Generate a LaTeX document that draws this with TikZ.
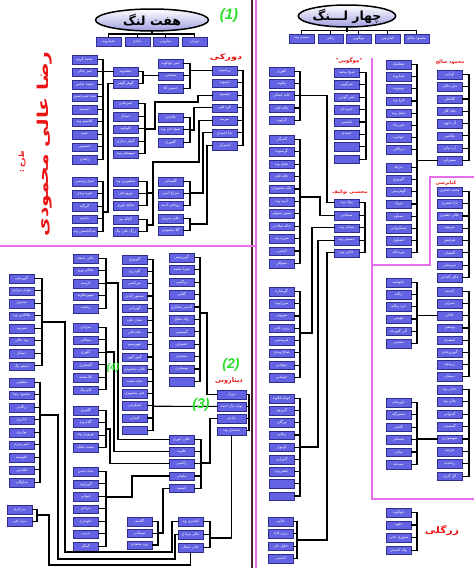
\documentclass[tikz,border=0pt]{standalone}
\usepackage{fontspec}
\usetikzlibrary{shapes.geometric}
\newfontfamily\arabicfont[Script=Arabic]{DejaVu Sans}
\newfontfamily\latf{Liberation Sans}
\TeXXeTstate=1
\definecolor{boxfill}{RGB}{98,98,226}
\definecolor{boxline}{RGB}{45,45,140}
\definecolor{pinkl}{RGB}{230,110,230}
\definecolor{grn}{RGB}{40,225,40}
\definecolor{rd}{RGB}{235,20,20}
\definecolor{lav}{RGB}{160,160,226}
\definecolor{divider}{RGB}{60,40,40}
\tikzset{
 bx/.style={draw=boxline, line width=0.3pt, fill=boxfill, text=white, minimum width=25pt, minimum height=8.5pt, inner sep=0.3pt, anchor=north west, font=\arabicfont\fontsize{3.6}{4}\selectfont},
 bxw/.style={bx, minimum width=29pt},
 ln/.style={line width=1.1pt, black, line cap=rect},
 pk/.style={line width=1.8pt, pinkl},
 title/.style={ellipse, draw=black, line width=1.5pt, top color=white, bottom color=lav, inner sep=0pt, font=\arabicfont\bfseries\fontsize{12.5}{13}\selectfont},
 redl/.style={text=rd, font=\arabicfont\bfseries\fontsize{5.5}{6}\selectfont, inner sep=0pt},
 grl/.style={text=grn, font=\latf\bfseries\itshape\fontsize{15}{15}\selectfont, inner sep=0pt}
}
\newcommand\bcol[5]{\foreach \t [count=\i] in {#5}{\node[bx] (#1\i) at (#2,{#3+(\i-1)*#4}) {\t};}}
\newcommand\brk[3]{\coordinate (bk) at (#3,0);
  \foreach \i in {1,...,#2}{\draw[ln] (#1\i.east) -- (#1\i.east -| bk);}
  \draw[ln] (#11.east -| bk) -- (#1#2.east -| bk);}
\begin{document}
\begin{tikzpicture}[x=1pt,y=-1pt]
\fill[white] (0,0) rectangle (474,568);
\useasboundingbox (0,0) rectangle (474,568);
% dividers
\draw[line width=1.6pt, divider] (252,0) -- (252,568);
\draw[pk] (256,0) -- (256,568);
\draw[pk] (0,246) -- (256,246);
\draw[pk] (372,58) -- (372,499) -- (474,499);
\draw[pk] (372,265) -- (430,265) -- (430,177) -- (474,177);
% titles
\node[title, minimum width=113pt, minimum height=22pt] (eh) at (152,20) {\beginR هفت  لنگ\endR};
\node[title, minimum width=94pt, minimum height=22pt] (ec) at (347,16) {\beginR چهار لـــنگ\endR};
\node[bx, minimum height=9pt] (Th1) at (96,37) {\beginR بختیاروند\endR};
\node[bx, minimum height=9pt] (Th2) at (124.5,37) {\beginR بابادی\endR};
\node[bx, minimum height=9pt] (Th3) at (153,37) {\beginR دینارونی\endR};
\node[bx, minimum height=9pt] (Th4) at (182,37) {\beginR دورکی\endR};
\node[bx, minimum height=9pt] (Tc1) at (289,33.5) {\beginR ممبنی وند\endR};
\node[bx, minimum height=9pt] (Tc2) at (318,33.5) {\beginR زلکی\endR};
\node[bx, minimum height=9pt] (Tc3) at (346,33.5) {\beginR موگویی\endR};
\node[bx, minimum height=9pt] (Tc4) at (375,33.5) {\beginR کیانرسی\endR};
\node[bx, minimum height=9pt] (Tc5) at (404,33.5) {\beginR محمود صالح\endR};
\draw[ln] (eh.south) -- ++(0,3);
\draw[ln] (Th1.north) -- ++(0,-3) -| (Th4.north);
\draw[ln] (Th2.north) -- ++(0,-3);
\draw[ln] (Th3.north) -- ++(0,-3);
\draw[ln] (ec.south) -- ++(0,3.5);
\draw[ln] (Tc1.north) -- ++(0,-3) -| (Tc5.north);
\foreach \k in {2,3,4}{\draw[ln] (Tc\k.north) -- ++(0,-3);}
% ---------------- upper left (1)
\bcol{Aa}{72}{55}{12.5}{\beginR محمد کریم\endR, \beginR امیر عالی\endR, \beginR سعید عباس\endR, \beginR شاه امیرحسین\endR, \beginR اسیمیه\endR, \beginR کلاسیم وند\endR, \beginR سیم\endR, \beginR حسنونی\endR, \beginR زاهدی\endR}
\bcol{Ab}{72}{177}{12.5}{\beginR شیخ رستمی\endR, \beginR خیره وندی\endR, \beginR گیرگید\endR, \beginR بیاچیم\endR, \beginR عبدالحسین وند\endR}
\bcol{Ba}{113}{67}{12}{\beginR دهقانوند\endR, \beginR گوهر گوهر\endR}
\bcol{Bb}{113}{99.5}{12.5}{\beginR امیرخانی\endR, \beginR دستال\endR, \beginR کلوکوه\endR, \beginR گنوار دیناری\endR, \beginR سهمعلی وند\endR}
\bcol{Bc}{113}{177}{12}{\beginR شاهپوری وند\endR, \beginR نوروزعلی\endR, \beginR صالح یاوری\endR}
\bcol{Bd}{113}{215}{12}{\beginR گیلکه بیر\endR, \beginR زرگ علی بیگ\endR}
\bcol{Ca}{158}{59}{12.5}{\beginR امیر ابوالوند\endR, \beginR مسیحی\endR, \beginR حسین آقا\endR}
\bcol{Cb}{158}{113}{12.5}{\beginR عالیادی\endR, \beginR شیخ جان وند\endR, \beginR گلبوزی\endR}
\bcol{Cc}{158}{177}{12}{\beginR گلستانی\endR, \beginR سراج الدین\endR, \beginR روحانی آدینه\endR}
\bcol{Cd}{158}{214}{12}{\beginR علی میرزی\endR, \beginR گلا محمودی\endR}
\bcol{D}{212}{66}{12.5}{\beginR زراسوند\endR, \beginR اسیوند\endR, \beginR عیسوند\endR, \beginR کرد قلی\endR, \beginR میرمد\endR, \beginR بابا احمدی\endR, \beginR آسترکی\endR}
\brk{Aa}{9}{103}\brk{Ab}{5}{103}\brk{Ba}{2}{143}\brk{Bb}{5}{145}\brk{Bc}{3}{147}\brk{Bd}{2}{147}
\brk{Ca}{3}{190}\brk{Cb}{3}{190}\brk{Cc}{3}{190}\brk{Cd}{2}{190}\brk{D}{7}{243}
\draw[ln] (Ba1.west) -- ++(-10,0);
\draw[ln] (103,212) -- (108,212) |- (Ba2.west);
\draw[ln] (Ca2.west) -- ++(-15,0);
\draw[ln] (D1.west) -- ++(-22,0);
\draw[ln] (145,129) -- (155,129) |- (198,102) |- (D3.west);
\draw[ln] (190,130) -- (194,130) |- (D4.west);
\draw[ln] (147,193) -- (153,193);
\draw[ln] (147,225) -- (153,225) -- (153,162) -- (199,162) |- (D5.west);
\draw[ln] (190,193) -- (203,193) |- (D6.west);
\draw[ln] (190,224) -- (207,224) |- (D7.west);
% ---------------- lower left
\bcol{Ea}{9}{274}{12.5}{\beginR گورزمین\endR, \beginR مهدی مرادی\endR, \beginR ستیزی\endR, \beginR علاالدین وند\endR, \beginR شیروند\endR, \beginR وند عالی\endR, \beginR دستال\endR, \beginR دستم بیگ\endR}
\bcol{Eb}{9}{378}{12.5}{\beginR مطیعی\endR, \beginR محمود رضا\endR, \beginR ریگانی\endR, \beginR بابارزی\endR, \beginR بهارزی\endR, \beginR امیر میرم\endR, \beginR خلوسیه\endR, \beginR لیلادینی\endR, \beginR ساوکلی\endR}
\bcol{Ec}{7}{505}{12}{\beginR بیرجاری\endR, \beginR مراد علی\endR}
\bcol{Fa}{73}{254}{12.5}{\beginR عالی جمعه\endR, \beginR تفاکی ورو\endR, \beginR کرسیه\endR, \beginR سهو قلاوند\endR, \beginR رحمت\endR}
\bcol{Fb}{73}{323}{12.5}{\beginR سرادی\endR, \beginR سفاکی\endR, \beginR گلوری\endR, \beginR گشتیاری\endR, \beginR کلا محمد\endR, \beginR کلم بیگ\endR}
\bcol{Fc}{73}{406}{12.4}{\beginR گلاوری\endR, \beginR گلام وند\endR, \beginR نوروزی وند\endR, \beginR محمد علیک\endR}
\bcol{Fd}{73}{467}{12.5}{\beginR شاه حسن\endR, \beginR گورزاوند\endR, \beginR کیوانی\endR, \beginR مرادی\endR, \beginR جلوداری\endR, \beginR بدرنی\endR, \beginR گمکار\endR}
\bcol{G}{122}{255}{12.2}{\beginR گوروزی\endR, \beginR گودرزی\endR, \beginR سرکشی\endR, \beginR منصور آبادی\endR, \beginR گورزانی\endR, \beginR شبان علی\endR, \beginR شاه قلی\endR, \beginR شهرسیم\endR, \beginR گیور گیور\endR, \beginR عالی محمودی\endR, \beginR شاه محمد\endR, \beginR علی محمودی\endR, \beginR لشکرانی\endR, \beginR کسانی\endR, {}}
\bcol{H}{169}{253}{12.4}{\beginR گورزمیس\endR, \beginR شیرا محمد\endR, \beginR نرگسی\endR, \beginR گلبلی\endR, \beginR گندمی شکاری\endR, \beginR ولاد صالح\endR, \beginR گمسینی\endR, \beginR جعفرلی\endR, \beginR محمدی\endR, \beginR بهمنیاری\endR, {}}
\node[bxw] (I1) at (217,390) {\beginR دورک\endR};
\node[bxw] (I2) at (217,402) {\beginR بواید مال احمد\endR};
\node[bxw] (I3) at (217,414) {\beginR بابادی\endR};
\node[bxw] (I4) at (217,426.5) {\beginR محمدی وند\endR};
\bcol{J}{169}{435}{12.2}{\beginR عالی انوری\endR, \beginR علاوند\endR, \beginR راکسی\endR, \beginR ملیخی\endR, \beginR کیسته\endR}
\bcol{K}{127}{517}{11.8}{\beginR گلاسه\endR, \beginR سیحانی\endR, \beginR زین محمدی\endR}
\bcol{L}{178}{517}{13.2}{\beginR ایلخیزی وند\endR, \beginR عالی مرادی\endR, \beginR عالی جمال\endR}
\brk{Ea}{8}{42}\brk{Eb}{9}{40}\brk{Ec}{2}{37}
\brk{Fa}{5}{106}\brk{Fb}{6}{106}\brk{Fc}{4}{106}\brk{Fd}{7}{106}
\brk{G}{15}{153}\brk{H}{11}{200}\brk{I}{4}{249}\brk{J}{5}{201}\brk{K}{3}{158}\brk{L}{3}{210}
\draw[ln] (42,322) -- (65,322) -- (65,552) -- (172,552) |- (L1.west);
\draw[ln] (40,415) -- (58,415) -- (58,559) -- (175,559) |- (L2.west);
\draw[ln] (37,515) -- (49,515) -- (49,565) -| (L3.south);
\draw[ln] (106,283) -- (118,283) |- (J1.west);
\draw[ln] (106,352) -- (114,352) |- (J2.west);
\draw[ln] (106,429) -- (110,429) |- (J3.west);
\draw[ln] (106,497) -- (132,497) |- (J4.west);
\draw[ln] (158,533) -- (163,533) |- (J5.west);
\draw[ln] (201,463) -- (210,463) |- (I3.west);
\draw[ln] (200,313) -- (207,313) |- (I1.west);
\draw[ln] (I2.west) -- (153,406.25);
\draw[ln] (210,538) -| (I4.south);
% ---------------- right half
\bcol{Ma}{269}{67}{12.2}{\beginR کلوری\endR, \beginR ملاوند\endR, \beginR خانه جمالی\endR, \beginR جاله قاید\endR, \beginR گرایوند\endR}
\bcol{Mb}{269}{135}{12.4}{\beginR گندیگی\endR, \beginR گرسیوند\endR, \beginR عقیل وند\endR, \beginR جاله قاید\endR, \beginR بلک محمودی\endR, \beginR آدینه وند\endR, \beginR تیمور نسولی\endR, \beginR جاله صلاحی\endR, \beginR میرزه وند\endR, \beginR الیاسی\endR, \beginR سیوالی\endR}
\bcol{Mc}{269}{287}{12.3}{\beginR گیرشاره\endR, \beginR میرزابوند\endR, \beginR میرونی\endR, \beginR زرین خانی\endR, \beginR قیرسیمی\endR, \beginR صالح وندی\endR, \beginR دولقانی\endR, \beginR حیسانی\endR}
\bcol{Md}{269}{394}{12.2}{\beginR جوانه قلاوند\endR, \beginR گیرزوی\endR, \beginR ورگلی\endR, \beginR زیلایی\endR, \beginR آوایوی\endR, \beginR گیرزایی\endR, \beginR جعفر وند\endR, {}, {}}
\bcol{Me}{268}{517}{12.4}{\beginR عالیی\endR, \beginR زرین قاید\endR, \beginR خلیل خان\endR, \beginR الیاسی\endR}
\bcol{N}{334}{198.5}{12.5}{\beginR پولاد وند\endR, \beginR سیحانی\endR, \beginR میدان وند\endR, \beginR حسینی وند\endR, \beginR حاجی وند\endR}
\bcol{O}{334}{68}{12.4}{\beginR شیخ محمد\endR, \beginR شرگویی\endR, \beginR امیر گودرز\endR, \beginR حمزه ای\endR, \beginR قاسمی\endR, \beginR حمیدی\endR, {}, {}}
\bcol{Pa}{386}{60}{12.2}{\beginR دهقانیک\endR, \beginR لیماروند\endR, \beginR دوپیروند\endR, \beginR قرچ وند\endR, \beginR جمال وند\endR, \beginR خیرزنادا\endR, \beginR جهانبزه\endR, \beginR دریالالی\endR}
\bcol{Pb}{386}{163}{12.2}{\beginR بدرقه\endR, \beginR گوروزی\endR, \beginR گوهرمینی\endR, \beginR دورک\endR, \beginR بسناوه\endR, \beginR عسکروانی\endR, \beginR کشکول\endR, \beginR دوردانکه\endR}
\bcol{Pc}{386}{278}{12.2}{\beginR جانواسه\endR, \beginR زنگنه\endR, \beginR خرد زنگنه\endR, \beginR بلوسی\endR, \beginR آلن گیوریته\endR, \beginR مسیبی\endR}
\bcol{Pd}{386}{398}{12.4}{\beginR ناورسام\endR, \beginR مسیرگیه\endR, \beginR گلبانی\endR, \beginR حسنکی\endR, \beginR سالی\endR, \beginR سبدیله\endR}
\bcol{Pe}{386}{508}{12.6}{\beginR جوکاوند\endR, \beginR جلوند\endR, \beginR تیموری جانی\endR, \beginR ولاد احمدی\endR}
\bcol{Qa}{437}{70}{12.3}{\beginR آورابی\endR, \beginR دهر جلالی\endR, \beginR گلانکلی\endR, \beginR جلاد گلار\endR, \beginR آل داوود\endR, \beginR عکاشی\endR, \beginR آرد بیابی\endR, \beginR سیمرآیی\endR}
\bcol{Qb}{437}{187}{12.3}{\beginR محمد جعفری\endR, \beginR بابا جعفری\endR, \beginR عالی جعفری\endR, \beginR خریبوند\endR, \beginR هرکیش\endR, \beginR گشتیان\endR, \beginR سرسانی\endR, \beginR عالی گندانی\endR}
\bcol{Qc}{437}{287}{12.2}{\beginR کیدچه\endR, \beginR سبزلی\endR, \beginR جلالی\endR, \beginR یوسفی\endR, \beginR اسفندی\endR, \beginR گورزرعدی\endR, \beginR زرنمچه\endR, \beginR دستکی\endR}
\bcol{Qd}{437}{385}{12.4}{\beginR حاجی وند\endR, \beginR عالی وند\endR, \beginR گندوانی\endR, \beginR گمسینی\endR, \beginR شهسواری\endR, \beginR خرسه\endR, \beginR زیاعدیه\endR, \beginR گل گبری\endR}
\brk{Ma}{5}{300}\brk{Mb}{11}{300}\brk{Mc}{8}{300}\brk{Md}{9}{300}\brk{Me}{4}{297}
\brk{N}{5}{365}\brk{O}{8}{366}
\brk{Pa}{8}{417}\brk{Pb}{8}{417}\brk{Pc}{6}{417}\brk{Pd}{6}{417}\brk{Pe}{4}{417}
\draw[ln] (Pa8.east -| bk) -- (Pb1.east -| bk);
\brk{Qa}{8}{469}\brk{Qb}{8}{469}\brk{Qc}{8}{469}\brk{Qd}{8}{469}
\draw[ln] (Qa8.west) -- ++(-20,0);
\draw[ln] (Qc3.west) -- ++(-20,0);
\draw[ln] (Qd5.west) -- ++(-20,0);
\draw[ln] (300,95.65) -- (327,95.65) |- (N1.west);
\draw[ln] (300,197) -- (320,197) |- (N2.west);
\draw[ln] (300,333) -- (312,333) |- (N3.west);
\draw[ln] (300,447) -- (318,447) |- (N4.west);
\draw[ln] (297,540) -- (327,540) |- (N5.west);
% ---------------- labels
\node[redl, font=\arabicfont\bfseries\fontsize{7.5}{8}\selectfont] (lbdor) at (226,58) {\scalebox{1.3}[1]{\beginR دورکی\endR}};
\node[redl] (lbmog) at (349,61) {\beginR "موگویی"\endR};
\node[redl, font=\arabicfont\bfseries\fontsize{4.8}{5}\selectfont] (lbmah) at (450,62) {\beginR محمود صالح\endR};
\node[redl, font=\arabicfont\bfseries\fontsize{4.8}{5}\selectfont] (lbkia) at (446,183) {\beginR کیانرسی\endR};
\node[redl, font=\arabicfont\bfseries\fontsize{4.8}{5}\selectfont] (lbmom) at (350,192) {\beginR محسنی نوکیف\endR};
\node[redl, font=\arabicfont\bfseries\fontsize{6.5}{7}\selectfont] (lbdin) at (229,381) {\beginR دینارونی\endR};
\node[redl, font=\arabicfont\bfseries\fontsize{9}{10}\selectfont] (lbzar) at (442,530) {\scalebox{1.2}[1]{\beginR زرگلی\endR}};
\node[grl] (g1) at (229,16) {(1)};
\node[grl, font=\latf\bfseries\itshape\fontsize{14}{14}\selectfont] (g2) at (231,365) {(2)};
\node[grl, font=\latf\bfseries\itshape\fontsize{14}{14}\selectfont] (g3) at (201,405) {(3)};
\node[grl, font=\latf\bfseries\itshape\fontsize{10}{10}\selectfont] (g4) at (113,368) {(4)};
\node[redl, rotate=90, font=\arabicfont\bfseries\fontsize{15}{16}\selectfont] (auth) at (45,144) {\scalebox{1.35}[1]{\beginR رضا عالی محمودی\endR}};
\node[redl, rotate=90, font=\arabicfont\bfseries\fontsize{7}{8}\selectfont] (tarh) at (22,162) {\beginR طرح :\endR};
\end{tikzpicture}
\end{document}
